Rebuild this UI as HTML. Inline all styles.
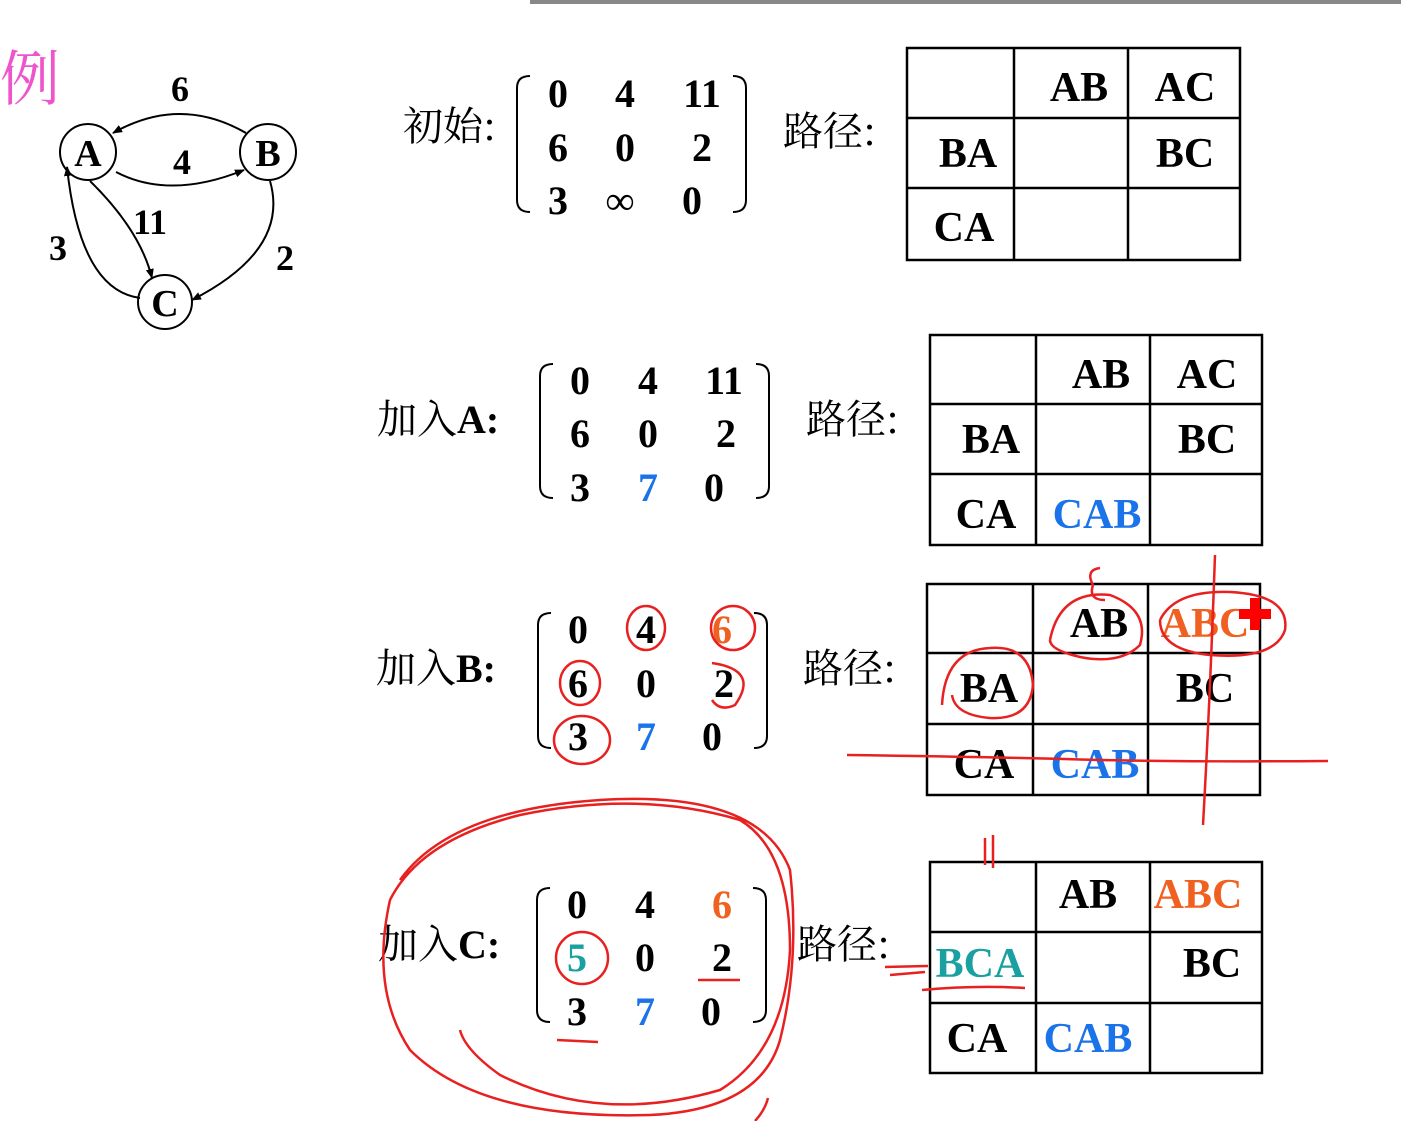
<!DOCTYPE html>
<html><head><meta charset="utf-8"><style>
html,body{margin:0;padding:0;background:#fff;width:1401px;height:1121px;overflow:hidden}
svg text{font-family:"Liberation Serif","Noto Serif CJK SC",serif;font-weight:bold}
.cn{font-family:"Noto Serif CJK SC","Noto Sans CJK SC",serif;font-weight:normal}
</style></head><body>
<svg width="1401" height="1121" viewBox="0 0 1401 1121" xmlns="http://www.w3.org/2000/svg">
<defs><marker id="ar" markerWidth="10" markerHeight="8" refX="9" refY="4" orient="auto" markerUnits="userSpaceOnUse"><path d="M0,0 L10,4 L0,8 z" fill="#000"/></marker></defs>
<rect x="530" y="0" width="871" height="4" fill="#888"/>
<text x="0" y="100" font-size="60" fill="#ee55cc" class="cn">例</text>
<!-- graph -->
<g stroke="#000" stroke-width="2" fill="#fff">
<circle cx="88" cy="152" r="28"/><circle cx="268" cy="152" r="28"/><circle cx="165" cy="302" r="27"/>
</g>
<g stroke="#000" stroke-width="2" fill="none" marker-end="url(#ar)">
<path d="M246,133 Q180,95 113,133"/>
<path d="M116,172 Q170,200 244,170"/>
<path d="M90,181 Q140,230 152,278"/>
<path d="M270,181 Q290,250 192,300"/>
<path d="M140,298 Q80,290 67,167"/>
</g>
<g font-size="38" text-anchor="middle">
<text x="88" y="166">A</text><text x="268" y="166">B</text><text x="165" y="316">C</text>
</g>
<g font-size="36" text-anchor="middle">
<text x="180" y="101">6</text><text x="182" y="174">4</text><text x="150" y="234">11</text><text x="58" y="260">3</text><text x="285" y="270">2</text>
</g>

<!-- generic bracket helper drawn manually -->
<g stroke="#000" stroke-width="2" fill="none">
<path d="M530,76 Q517,76 517,88 L517,200 Q517,212 530,212"/><path d="M733,76 Q746,76 746,88 L746,200 Q746,212 733,212"/>
<path d="M553,364 Q540,364 540,376 L540,486 Q540,498 553,498"/><path d="M756,364 Q769,364 769,376 L769,486 Q769,498 756,498"/>
<path d="M551,613 Q538,613 538,625 L538,736 Q538,748 551,748"/><path d="M754,613 Q767,613 767,625 L767,736 Q767,748 754,748"/>
<path d="M550,888 Q537,888 537,900 L537,1010 Q537,1022 550,1022"/><path d="M753,888 Q766,888 766,900 L766,1010 Q766,1022 753,1022"/>
</g>
<g font-size="40" text-anchor="middle">
<text x="558" y="107">0</text><text x="625" y="107">4</text><text x="702" y="107">11</text>
<text x="558" y="161">6</text><text x="625" y="161">0</text><text x="702" y="161">2</text>
<text x="558" y="214">3</text><text x="620" y="214" font-weight="normal">∞</text><text x="692" y="214">0</text>

<text x="580" y="394">0</text><text x="648" y="394">4</text><text x="724" y="394">11</text>
<text x="580" y="447">6</text><text x="648" y="447">0</text><text x="726" y="447">2</text>
<text x="580" y="501">3</text><text x="648" y="501" fill="#1a73e8">7</text><text x="714" y="501">0</text>

<text x="578" y="643">0</text><text x="646" y="643">4</text><text x="722" y="643" fill="#f06020">6</text>
<text x="578" y="697">6</text><text x="646" y="697">0</text><text x="724" y="697">2</text>
<text x="578" y="750">3</text><text x="646" y="750" fill="#1a73e8">7</text><text x="712" y="750">0</text>

<text x="577" y="918">0</text><text x="645" y="918">4</text><text x="722" y="918" fill="#f06020">6</text>
<text x="577" y="971" fill="#1aa0a0">5</text><text x="645" y="971">0</text><text x="722" y="971">2</text>
<text x="577" y="1025">3</text><text x="645" y="1025" fill="#1a73e8">7</text><text x="711" y="1025">0</text>
</g>
<g font-size="40" class="cn">
<text x="403" y="140" class="cn">初始:</text>
<text x="783" y="145" class="cn">路径:</text>
<text x="806" y="433" class="cn">路径:</text>
<text x="803" y="682" class="cn">路径:</text>
<text x="797" y="958" class="cn">路径:</text>
</g>
<g font-size="40">
<text x="377" y="433"><tspan class="cn">加入</tspan>A:</text>
<text x="376" y="682"><tspan class="cn">加入</tspan>B:</text>
<text x="378" y="958"><tspan class="cn">加入</tspan>C:</text>
</g>

<!-- tables -->
<g stroke="#000" stroke-width="2.5" fill="none">
<rect x="907" y="48" width="333" height="212"/><path d="M1014,48V260M1128,48V260M907,118H1240M907,188H1240"/>
<rect x="930" y="335" width="332" height="210"/><path d="M1036,335V545M1150,335V545M930,404H1262M930,474H1262"/>
<rect x="927" y="584" width="333" height="211"/><path d="M1033,584V795M1148,584V795M927,653H1260M927,724H1260"/>
<rect x="930" y="862" width="332" height="211"/><path d="M1036,862V1073M1150,862V1073M930,932H1262M930,1003H1262"/>
</g>
<g font-size="42" text-anchor="middle">
<text x="1079" y="101">AB</text><text x="1185" y="101">AC</text>
<text x="968" y="167">BA</text><text x="1185" y="167">BC</text>
<text x="964" y="241">CA</text>

<text x="1101" y="388">AB</text><text x="1207" y="388">AC</text>
<text x="991" y="453">BA</text><text x="1207" y="453">BC</text>
<text x="986" y="528">CA</text><text x="1097" y="528" fill="#1a73e8">CAB</text>

<text x="1099" y="637">AB</text><text x="1205" y="637" fill="#f06020">ABC</text>
<text x="989" y="702">BA</text><text x="1205" y="702">BC</text>
<text x="984" y="778">CA</text><text x="1095" y="778" fill="#1a73e8">CAB</text>

<text x="1088" y="908">AB</text><text x="1198" y="908" fill="#f06020">ABC</text>
<text x="980" y="977" fill="#1aa0a0">BCA</text><text x="1212" y="977">BC</text>
<text x="977" y="1052">CA</text><text x="1088" y="1052" fill="#1a73e8">CAB</text>
</g>

<!-- red annotations -->
<g stroke="#e82020" stroke-width="2.5" fill="none">
<ellipse cx="646" cy="628" rx="19" ry="22"/><ellipse cx="733" cy="628" rx="22" ry="22"/>
<ellipse cx="580" cy="683" rx="20" ry="22"/><path d="M712,663 Q760,670 735,705 Q720,712 712,700"/>
<ellipse cx="582" cy="740" rx="28" ry="24"/>
<path d="M1050,640 Q1060,590 1110,595 Q1150,610 1140,645 Q1120,665 1080,657 Q1050,650 1050,640"/>
<path d="M1100,568 Q1085,570 1093,585 Q1088,600 1105,600"/>
<path d="M1160,620 Q1175,590 1230,592 Q1290,595 1285,630 Q1275,660 1210,655 Q1160,650 1160,620"/>
<path d="M942,705 Q945,650 990,648 Q1030,645 1033,685 Q1030,720 990,718 Q955,715 952,695"/>
<path d="M847,755 Q1000,757 1100,760 Q1200,762 1328,761"/>
<path d="M1215,555 Q1210,700 1203,825"/>
<path d="M985,838 L985,865 M993,835 L993,868"/>
<ellipse cx="582" cy="958" rx="26" ry="26"/>
<path d="M698,980 L740,980"/><path d="M557,1040 L598,1042"/>
<path d="M885,967 L928,966 M890,975 L925,972"/><path d="M922,990 Q975,985 1025,988"/>
<path d="M400,880 Q450,810 600,800 Q760,790 790,870 Q800,960 780,1040 Q760,1110 650,1115 Q480,1120 410,1050 Q370,990 390,900 Q420,840 520,815 Q640,790 740,820 Q790,850 790,950 Q785,1050 720,1090 Q600,1125 500,1075 Q465,1050 460,1030"/>
<path d="M755,1121 Q765,1110 768,1098"/>
</g>
<g fill="#ff0000"><rect x="1250" y="598" width="10" height="32"/><rect x="1239" y="609" width="32" height="10"/></g>
</svg>
</body></html>
